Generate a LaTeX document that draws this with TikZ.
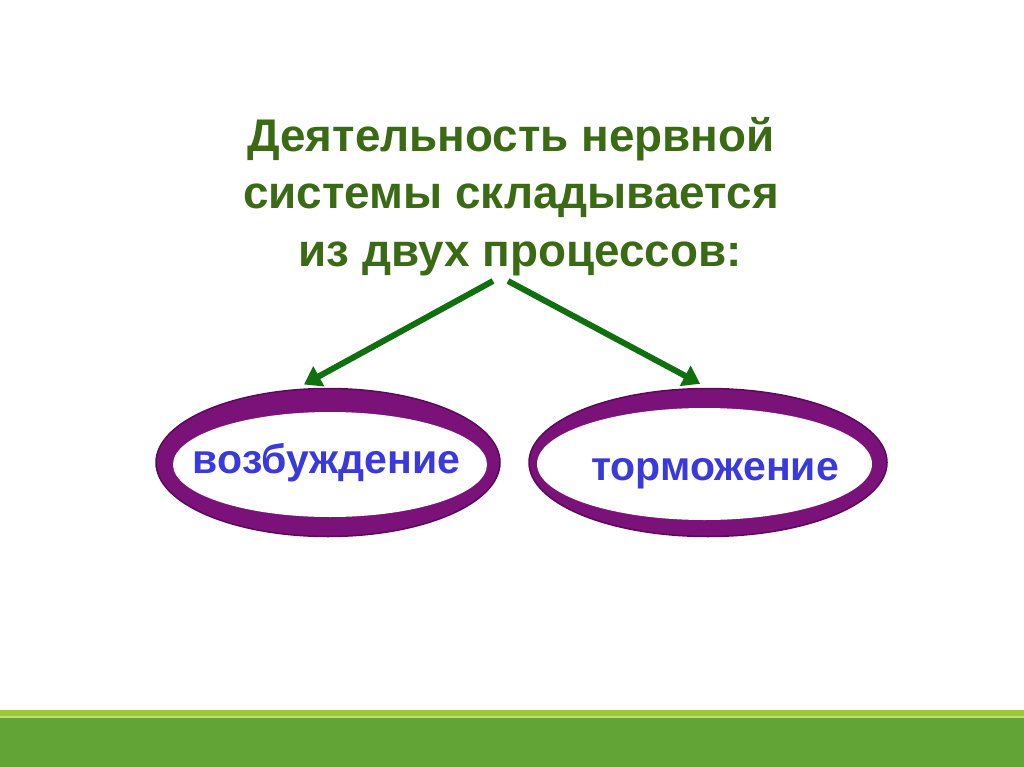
\documentclass[tikz,border=0pt]{standalone}
\usepackage{fontspec}
\setmainfont{Liberation Sans}
\usetikzlibrary{shapes.geometric,arrows.meta}

\definecolor{titlegreen}{RGB}{58,106,20}
\definecolor{arrowgreen}{RGB}{16,112,16}
\definecolor{ringpurple}{RGB}{122,18,122}
\definecolor{ringdark}{RGB}{92,8,92}
\definecolor{procblue}{RGB}{58,58,220}
\definecolor{barlight}{RGB}{155,200,58}
\definecolor{barstripe}{RGB}{188,222,118}
\definecolor{bardark}{RGB}{99,164,55}

\begin{document}
\begin{tikzpicture}[x=1pt, y=1pt,
	ring node/.style={ellipse, fill=ringpurple, draw=ringdark, line width=1.5pt, inner sep=0pt, minimum height=148pt},
	proc text/.style={anchor=base, inner sep=0pt, text=procblue, font=\fontsize{41}{41}\selectfont\bfseries},
	green arrow/.style={draw=arrowgreen, line width=6pt, -{Triangle[length=17pt 0 0, width=22pt 0 0]}}]
	\useasboundingbox (0,0) rectangle (1024,-767);

	% green bar at the bottom
	\fill[bardark] (0,-710) rectangle (1024,-767);
	\fill[barlight] (0,-710) rectangle (1024,-716);
	\fill[barstripe] (0,-716) rectangle (1024,-718);

	\node[anchor=north, inner sep=0pt, align=center, text=titlegreen, font=\fontsize{45.8}{57.5}\selectfont\bfseries] (title) at (511,-117) {Деятельность нервной\\системы складывается\\\hspace*{18pt}из двух процессов:};
	\coordinate (forkL) at (493,-281);
	\coordinate (forkR) at (508,-281);

	\node[ring node, minimum width=344pt, path picture={\fill[white] ([xshift=2pt, yshift=-2pt]path picture bounding box.center) ellipse [x radius=157pt, y radius=52.5pt];}] (exc) at (328,-462.5) {};
	\node[ring node, minimum width=358pt, path picture={\fill[white] ([xshift=-3.5pt, yshift=-1.5pt]path picture bounding box.center) ellipse [x radius=167.5pt, y radius=56pt];}] (inh) at (708,-462.5) {};

	\node[proc text] (excText) at (326.5,-473) {возбуждение};
	\node[proc text] (inhText) at (715,-480) {торможение};

	\draw[green arrow] (forkL) -- ([yshift=4pt]exc.108);
	\draw[green arrow] (forkR) -- ([yshift=4pt]inh.96);
\end{tikzpicture}
\end{document}
